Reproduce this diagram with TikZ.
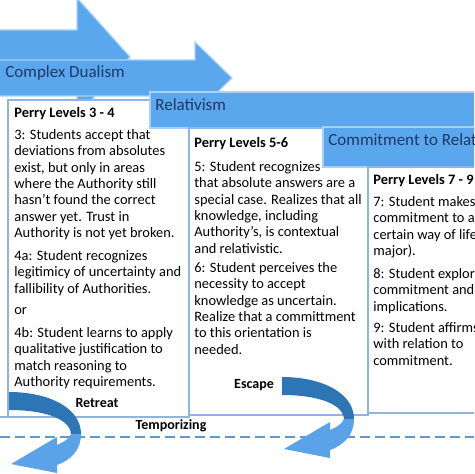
\documentclass[tikz,border=0pt]{standalone}
\usepackage{fontspec}
\setmainfont{Carlito}
\usetikzlibrary{positioning}

\definecolor{stepblue}{RGB}{91,167,238}
\definecolor{stepedge}{RGB}{170,208,245}
\definecolor{labelblue}{RGB}{31,56,100}
\definecolor{boxline}{RGB}{143,180,227}
\definecolor{curldark}{RGB}{46,117,182}
\definecolor{curllight}{RGB}{91,163,232}
\definecolor{dashblue}{RGB}{91,155,213}

\begin{document}
\begin{tikzpicture}[
    x=0.5pt, y=-0.5pt, % work in pixels, y pointing down
    stage/.style={fill=stepblue, draw=stepedge, line width=0.6pt},
    stagelabel/.style={anchor=west, text=labelblue, inner sep=0pt,
        font=\fontsize{8.5}{10}\selectfont},
    levelbox/.style={draw=boxline, fill=white, line width=0.6pt},
    leveltext/.style={anchor=north west, align=left, inner sep=0pt,
        font=\fontsize{7.2}{8.2}\selectfont},
    leveltitle/.style={leveltext, font=\fontsize{7.2}{8.2}\selectfont\bfseries},
    movelabel/.style={inner sep=0pt, font=\fontsize{7}{8}\selectfont\bfseries},
    % curled arrow, origin at the top left of its tail
    curl/.pic={
        \fill[curldark] (0,0) .. controls (40,0) and (72,16) .. (72,42)
            -- (62,42) .. controls (61,27) and (36,18) .. (0,18) -- cycle;
        \fill[curllight] (62,42) -- (72,42) .. controls (72,58) and (62,68) .. (48,73)
            -- (48,81) -- (2,72) -- (48,45) -- (48,53)
            .. controls (55,50) and (60,47) .. (62,42) -- cycle;
    }
]

    \useasboundingbox (0,0) rectangle (474,474);
    \clip (0,0) rectangle (474,474);

    % Stage arrows (staircase)
    \draw[stage] (-10,30) -- (77,30) -- (77,-2) -- (130,57) -- (77,116) -- (77,84) -- (-10,84) -- cycle;
    \draw[stage] (-10,60) -- (195,60) -- (195,42) -- (232,78) -- (195,114) -- (195,96) -- (-10,96) -- cycle;
    \node[stagelabel] (dualism) at (5,73) {Complex Dualism};

    % Perry levels 3 - 4
    \draw[boxline, line width=0.6pt] (0,417) -- (8,417);
    \draw[levelbox] (8,100) rectangle (189,417);
    \node[leveltitle] (title34) at (14,107) {Perry Levels 3 - 4};
    \node[leveltext] (level3) at (14,129) {3: Students accept that\\deviations from absolutes\\exist, but only in areas\\where the Authority still\\hasn't found the correct\\answer yet. Trust in\\Authority is not yet broken.};
    \node[leveltext] (level4a) at (14,250) {4a: Student recognizes\\legitimicy of uncertainty and\\fallibility of Authorities.};
    \node[leveltext] (levelor) at (14,307) {or};
    \node[leveltext] (level4b) at (14,327) {4b: Student learns to apply\\qualitative justification to\\match reasoning to\\Authority requirements.};

    \draw[stage] (150,92) rectangle (480,128);
    \node[stagelabel] (relativism) at (155,105) {Relativism};

    % Perry levels 5 - 6
    \draw[levelbox] (189,128) rectangle (368,415);
    \node[leveltitle] (title56) at (194,137) {Perry Levels 5-6};
    \node[leveltext] (level5) at (194,161) {5: Student recognizes\\that absolute answers are a\\special case. Realizes that all\\knowledge, including\\Authority's, is contextual\\and relativistic.};
    \node[leveltext] (level6) at (194,262) {6: Student perceives the\\necessity to accept\\knowledge as uncertain.\\Realize that a committment\\to this orientation is\\needed.};

    \draw[stage] (323,127) rectangle (480,167);
    \node[stagelabel] (commitment) at (328,140) {Commitment to Relativism};

    % Perry levels 7 - 9
    \draw[levelbox] (368,167) rectangle (480,413);
    \node[leveltitle] (title79) at (373,174) {Perry Levels 7 - 9};
    \node[leveltext] (level7) at (373,196) {7: Student makes\\commitment to a\\certain way of life\\major).};
    \node[leveltext] (level8) at (373,268) {8: Student explores\\commitment and\\implications.};
    \node[leveltext] (level9) at (373,322) {9: Student affirms\\with relation to\\commitment.};

    % Temporizing line and the two ways off it
    \coordinate (tempstart) at (0,437);
    \coordinate (tempend) at (474,437);
    \draw[dashblue, line width=1pt, dash pattern=on 5pt off 2.5pt] (tempstart) -- (tempend);
    \node[movelabel] (temporizing) at (171,426) {Temporizing};

    \pic at (9,392) {curl};
    \node[movelabel] (retreat) at (97,403) {Retreat};

    \pic at (282,377) {curl};
    \node[movelabel] (escape) at (254,385) {Escape};

\end{tikzpicture}
\end{document}
